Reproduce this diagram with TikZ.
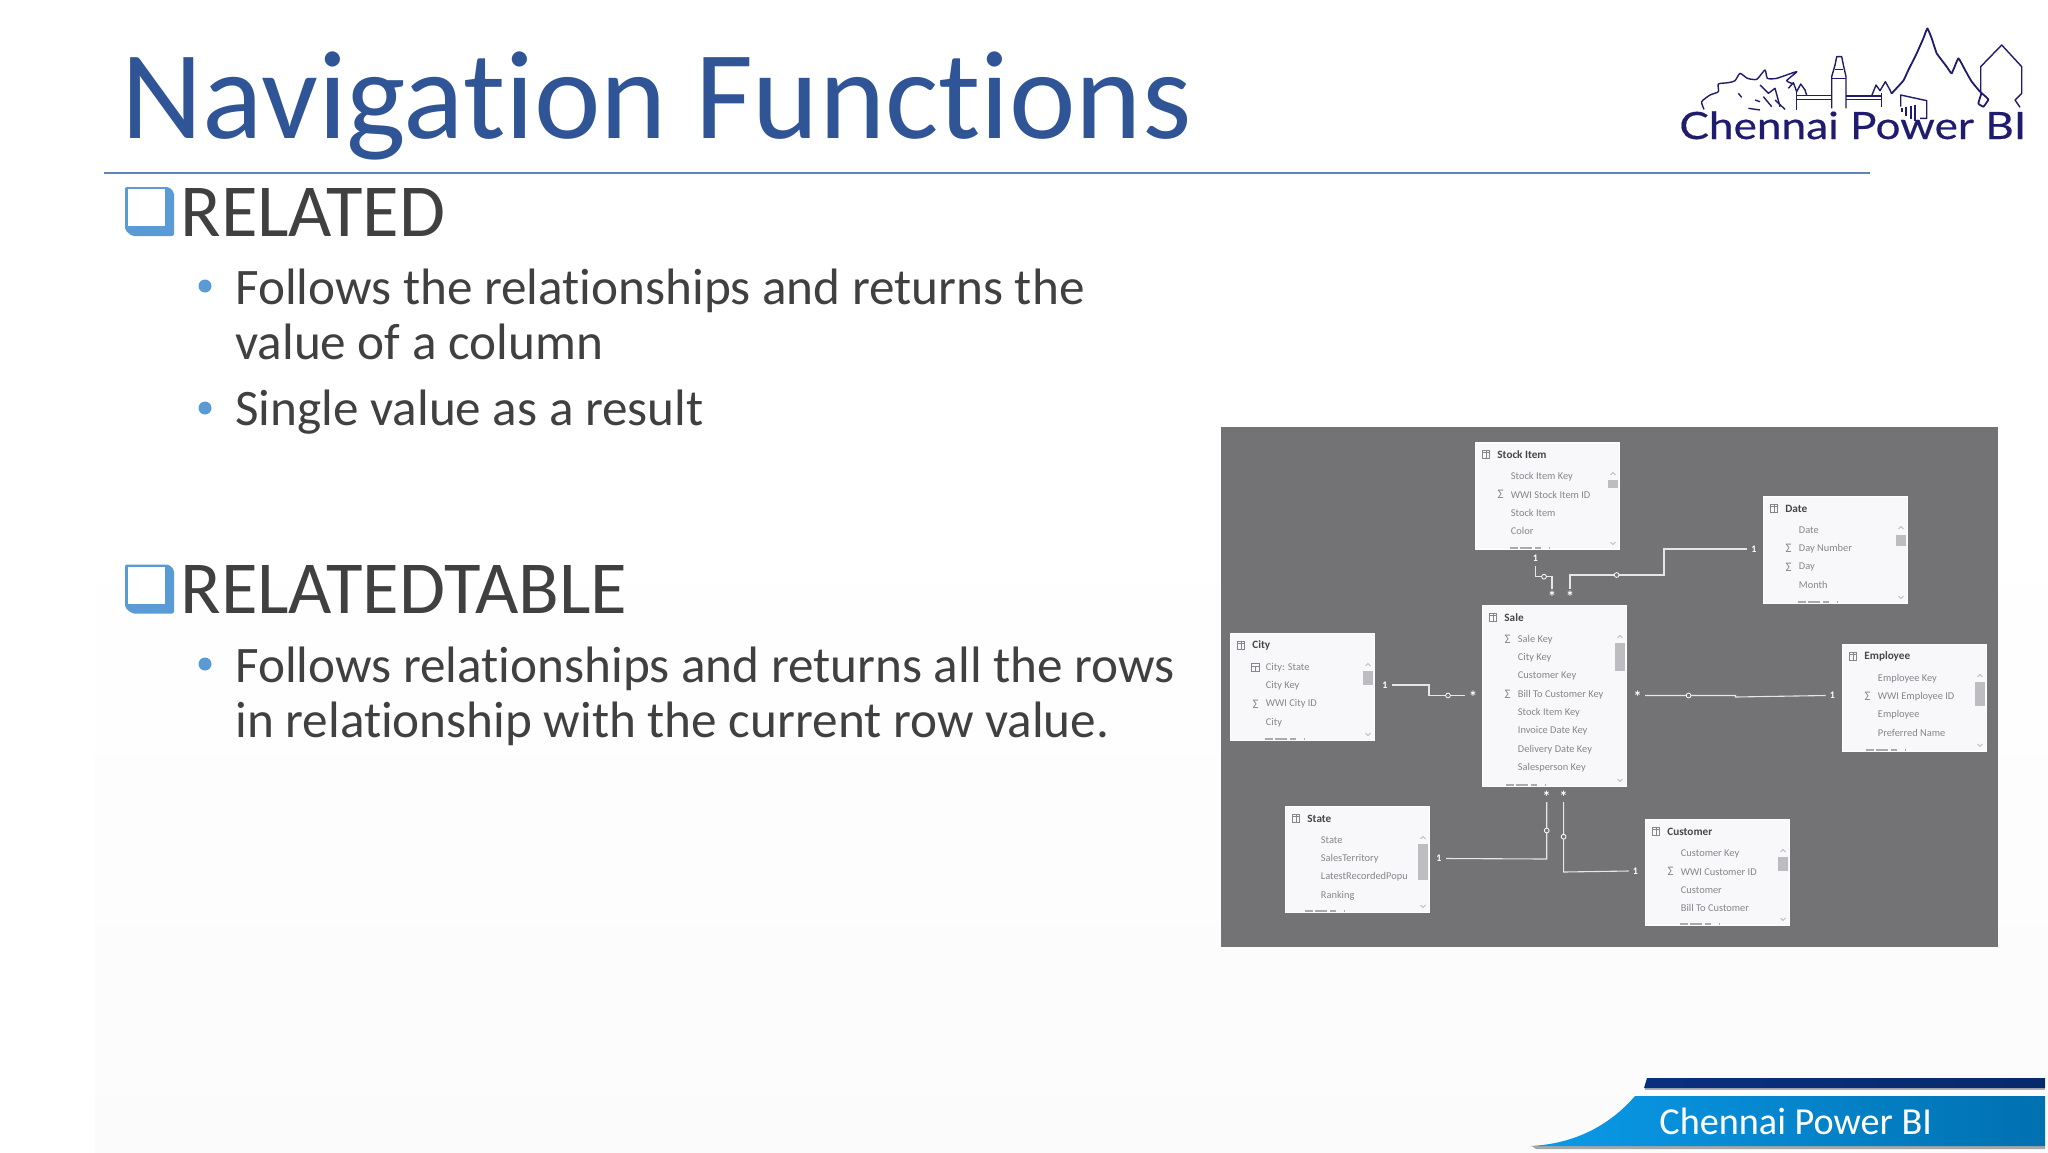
\documentclass[tikz,border=0pt]{standalone}
\usepackage{fontspec}
\setmainfont[Ligatures=NoCommon]{Carlito}
\newfontfamily\logofont[FakeBold=0.4,FakeStretch=1.175]{Lato}
\definecolor{titleblue}{HTML}{2F5597}
\definecolor{bodytext}{HTML}{404040}
\definecolor{accent}{HTML}{5B9BD5}
\definecolor{rulecol}{HTML}{5B85B5}
\definecolor{panel}{HTML}{737275}
\definecolor{cardfill}{HTML}{F8F8FB}
\definecolor{rowtext}{HTML}{85858B}
\definecolor{thumb}{HTML}{BDBDC1}
\definecolor{logoblue}{HTML}{1F1B6E}
\definecolor{barleft}{HTML}{0A9BEA}
\definecolor{barright}{HTML}{0070B0}
\definecolor{darkl}{HTML}{0A2F80}
\definecolor{darkr}{HTML}{072A6C}
\tikzset{
  titletext/.style={anchor=base west,inner sep=0,text=titleblue,font=\fontsize{63}{63}\selectfont},
  headtext/.style={anchor=base west,inner sep=0,text=bodytext,font=\fontsize{37.4}{37}\selectfont},
  bodyline/.style={anchor=base west,inner sep=0,text=bodytext,font=\fontsize{25.6}{26}\selectfont},
  bulletdot/.style={circle,fill=accent,inner sep=0,minimum size=13*0.5pt},
  cardbox/.style={anchor=north west,fill=cardfill,draw=white,line width=0.5pt,inner sep=0,minimum width=72pt},
  cardtitle/.style={anchor=west,inner sep=0,text=black!72,font=\bfseries\fontsize{5.6}{6}\selectfont},
  cardrow/.style={anchor=west,inner sep=0,text=rowtext,font=\fontsize{5.2}{6}\selectfont},
  cardsigma/.style={anchor=center,inner sep=0,text=rowtext,font=\fontsize{6.5}{7}\selectfont},
  cardicon/.style={draw=rowtext,line width=0.35pt},
  conn/.style={draw=white!82!panel,line width=0.55pt},
  endlabel/.style={inner sep=0,outer sep=0,minimum size=7pt,text=white,font=\bfseries\fontsize{5}{5}\selectfont},
  endstar/.style={inner sep=0,outer sep=0,minimum size=7pt,text=white,font=\bfseries\fontsize{8}{8}\selectfont},
  ringmark/.style={circle,draw=white,fill=panel,line width=0.4pt,inner sep=0,minimum size=2.4pt},
  logoline/.style={draw=logoblue,line width=0.7pt,line join=round},
}
\newcommand{\dbtable}[9]{%
  % #1 name, #2 x, #3 y, #4 height, #5 title, #6 thumb top, #7 thumb bottom, #8 rows, #9 partial-row start
  \node[cardbox,minimum height=#4*0.5pt] (#1) at (#2,#3) {};
  \node[cardtitle] (#1-title) at (#2+22,#3+12.7) {#5};
  \draw[cardicon] (#2+7.5,#3+8.5) rectangle (#2+14.5,#3+16);
  \draw[cardicon] (#2+7.5,#3+10.5) -- (#2+14.5,#3+10.5) (#2+11,#3+8.5) -- (#2+11,#3+16);
  \foreach \ic/\txt [count=\i] in {#8}{
    \node[cardrow] (#1-r\i) at (#2+35.5,{#3+34.5+18.3*(\i-1)}) {\txt};
    \if\ic s
      \node[cardsigma] (#1-s\i) at (#2+25.5,{#3+34.5+18.3*(\i-1)}) {Σ};
    \fi
    \if\ic h
      \draw[cardicon] (#2+21,{#3+30.5+18.3*(\i-1)}) rectangle (#2+29,{#3+38.5+18.3*(\i-1)});
      \draw[cardicon] (#2+21,{#3+33+18.3*(\i-1)}) -- (#2+29,{#3+33+18.3*(\i-1)}) (#2+25,{#3+33+18.3*(\i-1)}) -- (#2+25,{#3+38.5+18.3*(\i-1)});
    \fi
  }
  \fill[thumb] (#2+132.5,#3+#6) rectangle (#2+143,#3+#7);
  \draw[thumb,line width=0.4pt] (#2+135.5,#3+33) -- (#2+138,#3+30.5) -- (#2+140.5,#3+33);
  \draw[thumb,line width=0.4pt] (#2+135.5,#3+#4-7) -- (#2+138,#3+#4-4.5) -- (#2+140.5,#3+#4-7);
  \draw[rowtext!70!white,line width=0.8pt,dash pattern=on 4pt off 1.2pt on 6pt off 1.5pt on 3pt] (#2+#9,#3+#4-1) -- (#2+#9+40,#3+#4-1);
}
\begin{document}
\begin{tikzpicture}[x=0.5pt,y=-0.5pt]
\useasboundingbox (0,0) rectangle (2048,1152);
\fill[white] (0,0) rectangle (2048,1152);
\shade[top color=white,bottom color=white!98.5!black] (95,500) rectangle (2048,1152);

% title
\node[titletext] (title) at (121,138) {Navigation Functions};
\draw[rulecol,line width=0.6pt] (104,173) -- (1870,173);

% left column
\fill[accent,rounded corners=1pt] (125,187) -- (169,187) -- (174,192) -- (174,236) -- (132,236) -- (125,230) -- cycle;
\fill[white] (128,189) rectangle (165,226);
\node[headtext] (h1) at (180,236) {RELATED};
\node[bulletdot] (b1) at (205,286) {};
\node[bodyline] (l1) at (235,304.5) {Follows the relationships and returns the};
\node[bodyline] (l2) at (235,359.5) {value of a column};
\node[bulletdot] (b2) at (205,408) {};
\node[bodyline] (l3) at (235,425.5) {Single value as a result};

\fill[accent,rounded corners=1pt] (125,564.5) -- (169,564.5) -- (174,569.5) -- (174,613.5) -- (132,613.5) -- (125,607.5) -- cycle;
\fill[white] (128,566.5) rectangle (165,603.5);
\node[headtext] (h2) at (180,613.5) {RELATEDTABLE};
\node[bulletdot] (b3) at (205,664) {};
\node[bodyline] (l4) at (235,682) {Follows relationships and returns all the rows};
\node[bodyline] (l5) at (235,737) {in relationship with the current row value.};

% diagram panel
\fill[panel] (1221,427) rectangle (1998,947);
\dbtable{stock}{1475}{442}{107}{Stock Item}{38}{46}{n/Stock Item Key,s/WWI Stock Item ID,n/Stock Item,n/Color}{35}
\dbtable{date}{1763}{496}{107}{Date}{39}{50}{n/Date,s/Day Number,s/Day,n/Month}{35}
\dbtable{sale}{1482}{605}{181}{Sale}{38}{66}{s/Sale Key,n/City Key,n/Customer Key,s/Bill To Customer Key,n/Stock Item Key,n/Invoice Date Key,n/Delivery Date Key,n/Salesperson Key}{24}
\dbtable{city}{1230}{633}{107}{City}{38}{52}{h/City: State,n/City Key,s/WWI City ID,n/City}{35}
\dbtable{emp}{1842}{644}{107}{Employee}{38}{62}{n/Employee Key,s/WWI Employee ID,n/Employee,n/Preferred Name}{24}
\dbtable{state}{1285}{806}{106}{State}{38}{74}{n/State,n/SalesTerritory,n/LatestRecordedPopu,n/Ranking}{20}
\dbtable{cust}{1645}{819}{106}{Customer}{38}{52}{n/Customer Key,s/WWI Customer ID,n/Customer,n/Bill To Customer}{35}

% connector ends
\node[endlabel] (e-st1) at (1535.5,558.5) {1};
\node[endstar] (e-st2) at (1552,597) {*};
\node[endlabel] (e-da1) at (1754,549) {1};
\node[endstar] (e-da2) at (1570,597) {*};
\node[endlabel] (e-ci1) at (1385,685) {1};
\node[endstar] (e-ci2) at (1473,697) {*};
\node[endlabel] (e-em1) at (1832.5,695.5) {1};
\node[endstar] (e-em2) at (1637.5,697) {*};
\node[endlabel] (e-sa1) at (1439,858.5) {1};
\node[endstar] (e-sa2) at (1546.7,797) {*};
\node[endlabel] (e-cu1) at (1635.5,871) {1};
\node[endstar] (e-cu2) at (1563.6,797) {*};

% connectors
\coordinate (k-st) at (1535.5,576.7);
\coordinate (k-st2) at (1552,576.7);
\draw[conn] (e-st1.south) -- (k-st) -- (k-st2) -- (1552,589);
\coordinate (k-da1) at (1664,549);
\coordinate (k-da2) at (1664,575);
\coordinate (k-da3) at (1570,575);
\draw[conn] (e-da1.west) -- (k-da1) -- (k-da2) -- (k-da3) -- (1570,589);
\coordinate (k-ci1) at (1429,685);
\coordinate (k-ci2) at (1429,695.5);
\draw[conn] (e-ci1.east) -- (k-ci1) -- (k-ci2) -- (1465,695.5);
\coordinate (k-em1) at (1735.5,695.5);
\coordinate (k-em2) at (1735.5,697);
\draw[conn] (1645,695.5) -- (k-em1) -- (k-em2) -- (e-em1.west);
\coordinate (k-sa) at (1546.7,859);
\draw[conn] (1546.7,802) -- (k-sa) -- (e-sa1.east);
\coordinate (k-cu) at (1563.6,872);
\draw[conn] (1563.6,802) -- (k-cu) -- (e-cu1.west);

\node[ringmark] (m1) at (1544,576.7) {};
\node[ringmark] (m2) at (1616.6,575) {};
\node[ringmark] (m3) at (1448,695.5) {};
\node[ringmark] (m4) at (1688.6,695.5) {};
\node[ringmark] (m5) at (1546.7,830.5) {};
\node[ringmark] (m6) at (1563.6,836.7) {};

% logo
\begin{scope}[shift={(1660,10)},x=0.16667pt,y=-0.16667pt]
\draw[logoline] plot[smooth,tension=0.35] coordinates {(132,298)(125,275)(150,255)(175,245)(175,222)(205,218)(225,212)(240,190)(262,205)(290,208)(315,180)(322,205)(350,205)(410,185)(380,212)(402,222)};
\draw[logoline] (300,225) -- (325,250) -- (345,235) -- (360,290);
\draw[logoline] (310,260) -- (335,290) (345,270) -- (375,298) (235,250) -- (245,262) (265,295) -- (300,300) (285,270) -- (300,275);
\draw[logoline] (385,235) -- (400,218) -- (410,245) -- (422,222) -- (435,240) -- (440,256);
\draw[logoline] (410,240) -- (410,300) (410,256) -- (515,256) (410,269) -- (515,269);
\draw[logoline] (515,295) -- (515,200) -- (525,165) -- (530,140) -- (545,140) -- (550,165) -- (558,200) -- (558,295);
\draw[logoline] (515,206) -- (558,206) (525,178) -- (550,178);
\draw[logoline] (558,258) -- (665,258) (558,269) -- (665,269) (665,250) -- (665,290);
\draw[logoline] (636,255) -- (648,225) -- (660,242) -- (676,215) -- (690,240) -- (695,252);
\draw[logoline,line width=0.9pt] plot[smooth,tension=0.2] coordinates {(695,250)(730,212)(745,180)(770,130)(790,85)(802,55)(815,85)(830,130)(860,170)(875,190)(895,145)(915,180)(935,215)(960,245)(985,268)(970,290)(955,280)(965,248)};
\draw[logoline] (962,250) -- (962,170) -- (1025,105) -- (1085,170) -- (1085,250) -- (1065,270) -- (1080,292);
\draw[logoline] (722,290) -- (722,255) -- (800,272) -- (800,325) -- (780,325);
\draw[logoline,line width=1pt] (725,295) -- (725,305) (738,290) -- (738,318) (752,288) -- (752,328) (766,285) -- (766,332);
\end{scope}
\node[anchor=base west,inner sep=0,text=logoblue,font=\logofont\fontsize{18.8}{20}\selectfont] (logotext) at (1679,139) {Chennai Power BI};

% footer band
\fill[black!35] (1532,1146) -- (2045,1146) -- (2045,1149) -- (1536,1149) -- cycle;
\shade[left color=barleft,right color=barright] (1530,1146) .. controls (1575,1144) and (1610,1125) .. (1635,1096) -- (2045,1096) -- (2045,1146) -- cycle;
\fill[black!30] (1645,1088) rectangle (2045,1090);
\shade[left color=darkl,right color=darkr] (1644,1088) -- (1647,1078) -- (2045,1078) -- (2045,1088) -- cycle;
\node[anchor=base west,inner sep=0,text=white,font=\fontsize{19.1}{19}\selectfont] (foot) at (1659,1134) {Chennai Power BI};
\end{tikzpicture}
\end{document}
